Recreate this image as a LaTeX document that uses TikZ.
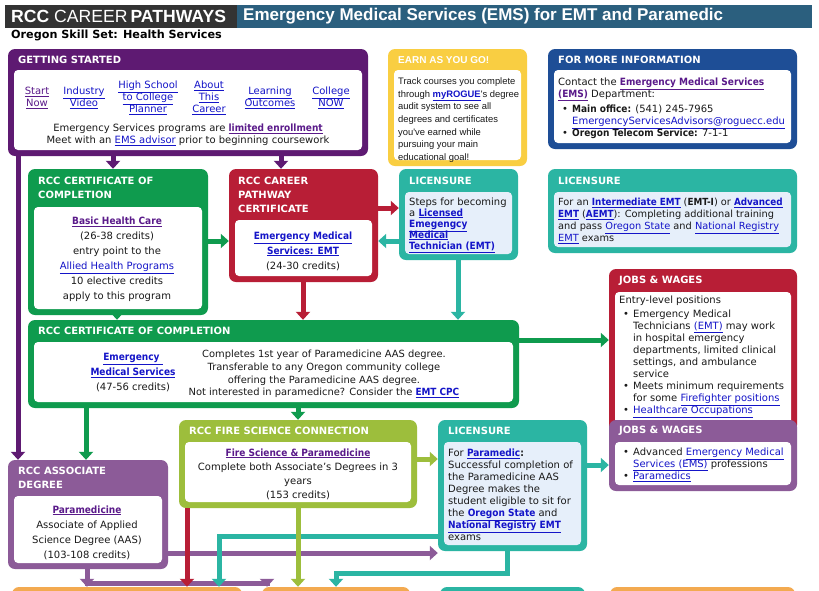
\documentclass[tikz,border=0pt]{standalone}
\usepackage{fontspec}
\setmainfont{DejaVu Sans}[BoldFeatures={FakeStretch=0.9}]
\newfontfamily\hdrf{DejaVu Sans}
\newfontfamily\arialf{Liberation Sans}
\usetikzlibrary{arrows.meta,fit}
\definecolor{cGS}{RGB}{94,26,114}
\definecolor{cY}{RGB}{249,206,66}
\definecolor{cB}{RGB}{30,78,150}
\definecolor{cG}{RGB}{15,155,78}
\definecolor{cR}{RGB}{184,30,54}
\definecolor{cT}{RGB}{43,181,163}
\definecolor{cLP}{RGB}{140,91,152}
\definecolor{cO}{RGB}{157,190,60}
\definecolor{cLB}{RGB}{230,239,250}
\definecolor{cOr}{RGB}{243,170,80}
\definecolor{cDark}{RGB}{51,51,51}
\definecolor{cSteel}{RGB}{43,95,126}
\definecolor{lnk}{RGB}{20,20,200}
\definecolor{vis}{RGB}{90,26,138}
\definecolor{ink}{RGB}{25,25,25}
\newcommand\lk[1]{{\color{lnk}\underline{#1}}}
\newcommand\vk[1]{{\color{vis}\underline{#1}}}
\newcommand\fsz[2]{\fontsize{#1}{#2}\selectfont\lineskiplimit=-20pt\relax}
\newcommand\hfont{\hdrf\fontsize{10}{14}\selectfont\bfseries}
\newcommand\bfont{\fsz{10}{12}}
\newcommand\blt{\makebox[14pt][l]{\hspace*{4pt}\textbullet}}
\newcommand\ind{\makebox[14pt][l]{}}
\newcommand\panel[8]{%
  \node[fit={(#3,#4)(#5,#6)}, inner sep=0pt, fill=#2, rounded corners=7pt] (#1) {};
  \node[fit={({#3+6},#7)({#5-6},{#6-6})}, inner sep=0pt, fill=#8, rounded corners=4pt] (#1in) {};
}
\tikzset{
  hdr/.style={text=white, font=\hfont, inner sep=0pt, anchor=west, align=left},
  txt/.style={text=ink, font=\bfont, inner sep=0pt, align=center},
  ltxt/.style={text=ink, font=\bfont, inner sep=0pt, align=left, anchor=west},
  arr/.style={line width=5pt, -{Triangle[width=14pt,length=8pt]}},
}
\begin{document}
\begin{tikzpicture}[x=1pt,y=-1pt]
\useasboundingbox[fill=white] (0,0) rectangle (819,590);
% title
\node[fit={(5,5)(237,28)}, inner sep=0pt, fill=cDark] (tb1) {};
\node[fit={(237,5)(812,28)}, inner sep=0pt, fill=cSteel] (tb2) {};
\node[anchor=west, inner sep=0pt, text=white, font={\arialf\fontsize{17.6}{20}\selectfont}] (t1) at (11,16.5) {\textbf{RCC} CAREER\,\textbf{PATHWAYS}};
\node[anchor=west, inner sep=0pt, text=white, font={\arialf\fontsize{17}{19}\selectfont\bfseries}] (t2) at (243,16.5) {Emergency Medical Services (EMS) for EMT and Paramedic};
\node[anchor=west, inner sep=0pt, text=black, font={\hdrf\fontsize{11.2}{13}\selectfont\bfseries}] (t3) at (11,35) {Oregon Skill Set: Health Services};

% panels
\panel{gs}{cGS}{8}{49}{368}{156}{70}{white}
\panel{ey}{cY}{388}{49}{527}{166}{70}{white}
\panel{fm}{cB}{548}{49}{797}{149}{70}{white}
\panel{g1}{cG}{28}{169}{208}{315}{207}{white}
\panel{rd}{cR}{229}{169}{378}{282}{220}{white}
\panel{l1}{cT}{399}{169}{518}{260}{192}{cLB}
\panel{l2}{cT}{548}{169}{797}{253}{192}{cLB}
\panel{jr}{cR}{609}{269}{797}{432}{292}{white}
\panel{g2}{cG}{28}{320}{519}{408}{342}{white}
\panel{fs}{cO}{179}{420}{417}{508}{442}{white}
\panel{l3}{cT}{438}{420}{587}{551}{442}{cLB}
\panel{jp}{cLP}{609}{420}{797}{491}{442}{white}
\panel{as}{cLP}{8}{460}{168}{569}{496}{white}
\node[fit={(12,587)(242,640)}, inner sep=0pt, fill=cOr, rounded corners=7pt] (b1) {};
\node[fit={(262,587)(410,640)}, inner sep=0pt, fill=cOr, rounded corners=7pt] (b2) {};
\node[fit={(440,587)(585,640)}, inner sep=0pt, fill=cT, rounded corners=7pt] (b3) {};
\node[fit={(610,587)(795,640)}, inner sep=0pt, fill=cOr, rounded corners=7pt] (b4) {};

% headers
\node[hdr] (gsh) at (18,60) {GETTING STARTED};
\node[hdr, font={\arialf\fontsize{10}{14}\selectfont\bfseries}] (eyh) at (398,60) {EARN AS YOU GO!};
\node[hdr] (fmh) at (558,60) {FOR MORE INFORMATION};
\node[hdr] (g1h) at (38,188) {RCC CERTIFICATE OF\\COMPLETION};
\node[hdr] (rdh) at (238,195) {RCC CAREER\\PATHWAY\\CERTIFICATE};
\node[hdr] (l1h) at (409,181) {LICENSURE};
\node[hdr] (l2h) at (558,181) {LICENSURE};
\node[hdr] (jrh) at (619,281) {JOBS \& WAGES};
\node[hdr] (g2h) at (38,331) {RCC CERTIFICATE OF COMPLETION};
\node[hdr] (fsh) at (189,431) {RCC FIRE SCIENCE CONNECTION};
\node[hdr] (l3h) at (448,431) {LICENSURE};
\node[hdr] (jph) at (619,431) {JOBS \& WAGES};
\node[hdr] (ash) at (18,478) {RCC ASSOCIATE\\DEGREE};

% getting started
\node[txt] (gl1) at (37,98) {\vk{Start}\\\vk{Now}};
\node[txt] (gl2) at (84,98) {\lk{Industry}\\\lk{Video}};
\node[txt] (gl3) at (148,98) {\lk{High School}\\\lk{to College}\\\lk{Planner}};
\node[txt] (gl4) at (209,98) {\lk{About}\\\lk{This}\\\lk{Career}};
\node[txt] (gl5) at (270,98) {\lk{Learning}\\\lk{Outcomes}};
\node[txt] (gl6) at (331,98) {\lk{College}\\\lk{NOW}};
\node[txt] (gst) at (188,135) {Emergency Services programs are \vk{\textbf{limited enrollment}}\\Meet with an \lk{EMS advisor} prior to beginning coursework};

% earn
\node[ltxt, font={\arialf\fsz{9.4}{12.7}}] (eyt) at (398,120) {Track courses you complete\\through \lk{\textbf{myROGUE}}'s degree\\audit system to see all\\degrees and certificates\\you've earned while\\pursuing your main\\educational goal!};

% more info
\node[ltxt] (fmt) at (558,108.5) {Contact the \vk{\textbf{Emergency Medical Services}}\\\vk{\textbf{(EMS)}} Department:\\[3pt]\blt\textbf{Main office:} (541) 245-7965\\\ind\lk{EmergencyServicesAdvisors@roguecc.edu}\\\blt\textbf{Oregon Telecom Service:} 7-1-1};

% green 1
\node[txt, font={\fsz{10}{15}}] (g1t) at (117,259.5) {\vk{\textbf{Basic Health Care}}\\(26-38 credits)\\entry point to the\\\lk{Allied Health Programs}\\10 elective credits\\apply to this program};

% red
\node[txt, font={\fsz{10}{15}}] (rdt) at (303,251) {\lk{\textbf{Emergency Medical}}\\\lk{\textbf{Services: EMT}}\\(24-30 credits)};

% licensure 1
\node[ltxt, font={\fsz{10}{11}}] (l1t) at (409,225) {Steps for becoming\\a \lk{\textbf{Licensed}}\\\lk{\textbf{Emegengcy}}\\\lk{\textbf{Medical}}\\\lk{\textbf{Technician (EMT)}}};

% licensure 2
\node[ltxt, font={\fsz{9.8}{12}}] (l2t) at (558,221) {For an \lk{\textbf{Intermediate EMT}} (\textbf{EMT-I}) or \lk{\textbf{Advanced}}\\\lk{\textbf{EMT}} (\lk{\textbf{AEMT}}): Completing additional training\\and pass \lk{Oregon State} and \lk{National Registry}\\\lk{EMT} exams};

% jobs red
\node[ltxt] (jrt) at (619,357) {Entry-level positions\\[2pt]\blt Emergency Medical\\\ind Technicians \lk{(EMT)} may work\\\ind in hospital emergency\\\ind departments, limited clinical\\\ind settings, and ambulance\\\ind service\\\blt Meets minimum requirements\\\ind for some \lk{Firefighter positions}\\\blt\lk{Healthcare Occupations}};

% jobs purple
\node[ltxt] (jpt) at (619,465) {\blt Advanced \lk{Emergency Medical}\\\ind\lk{Services (EMS)} professions\\\blt\lk{Paramedics}};

% green 2
\node[txt, font={\fsz{10}{15}}] (g2a) at (133,373) {\lk{\textbf{Emergency }}\\\lk{\textbf{Medical Services}}\\(47-56 credits)};
\node[txt, font={\fsz{9.9}{12.7}}] (g2b) at (324,374) {Completes 1st year of Paramedicine AAS degree.\\Transferable to any Oregon community college\\offering the Paramedicine AAS degree.\\Not interested in paramedicne? Consider the \lk{\textbf{EMT CPC}}};

% fire science
\node[txt, font={\fsz{10}{14}}] (fst) at (298,474) {\vk{\textbf{Fire Science \& Paramedicine}}\\Complete both Associate's Degrees in 3\\years\\(153 credits)};

% licensure 3
\node[ltxt] (l3t) at (448,495) {For \lk{\textbf{Paramedic}}\textbf{:}\\Successful completion of\\the Paramedicine AAS\\Degree makes the\\student eligible to sit for\\the \lk{\textbf{Oregon State}} and\\\lk{\textbf{National Registry EMT}}\\exams};

% associate
\node[txt, font={\fsz{10}{15}}] (ast) at (87,532.5) {\vk{\textbf{Paramedicine}}\\Associate of Applied\\Science Degree (AAS)\\(103-108 credits)};

% column / row coordinates
\foreach \v in {18,86,87,113,117,187,219,267,281,298,303,336,458,507}{\coordinate (x\v) at (\v,0);}
\foreach \v in {208,241,340,459,465,536,553,573,583}{\coordinate (y\v) at (0,\v);}

% connectors
\draw[arr,cGS] (gs.south -| x18) -- (as.north -| x18);
\draw[arr,cGS] (gs.south -| x113) -- (g1.north -| x113);
\draw[arr,cGS] (gs.south -| x281) -- (rd.north -| x281);
\draw[arr,cG] (g1.east |- y241) -- (rd.west |- y241);
\draw[arr,cR] (rd.east |- y208) -- (l1.west |- y208);
\draw[arr,cT] (l1.west |- y241) -- (rd.east |- y241);
\draw[arr,cR] (rd.south -| x303) -- (g2.north -| x303);
\draw[arr,cT] (l1.south -| x458) -- (g2.north -| x458);
\draw[arr,cG] (g1.south -| x117) -- (g2.north -| x117);
\draw[arr,cG] (g2.east |- y340) -- (jr.west |- y340);
\draw[arr,cG] (g2.south -| x298) -- (fs.north -| x298);
\draw[arr,cG] (g2.south -| x86) -- (as.north -| x86);
\draw[arr,cO] (fs.east |- y459) -- (l3.west |- y459);
\draw[arr,cT] (l3.east |- y465) -- (jp.west |- y465);
\draw[arr,cLP] (as.east |- y553) -- (l3.west |- y553);
\draw[arr,cLP] (as.south -| x87) -- (b1.north -| x87);
\draw[arr,cLP] (as.south -| x87) |- (x267 |- y583) -- (b2.north -| x267);
\draw[arr,cR] (fs.south -| x187) -- (b1.north -| x187);
\draw[arr,cT] (l3.west |- y536) -| (b1.north -| x219);
\draw[arr,cO] (fs.south -| x298) -- (b2.north -| x298);
\draw[arr,cT] (l3.south -| x507) |- (x336 |- y573) -- (b2.north -| x336);
\end{tikzpicture}
\end{document}
